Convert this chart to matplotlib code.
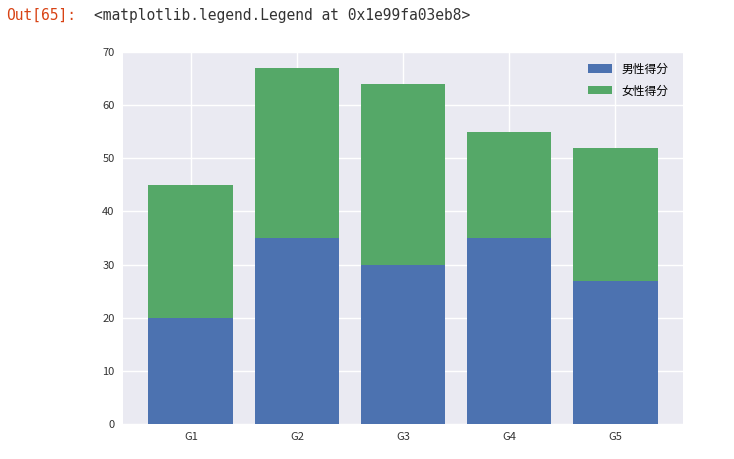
import matplotlib
matplotlib.use("Agg")
import matplotlib.pyplot as plt
import numpy as np

groups = ["G1", "G2", "G3", "G4", "G5"]
men_scores = [20, 35, 30, 35, 27]
women_scores = [25, 32, 34, 20, 25]
series_labels = ["男性得分", "女性得分"]
yticks = [0, 10, 20, 30, 40, 50, 60, 70]

plt.rcParams['font.family'] = ['Noto Sans CJK SC', 'DejaVu Sans']

fig = plt.figure(figsize=(7.34, 4.59), dpi=100)
fig.patch.set_facecolor("white")
ax = fig.add_axes([0.1676, 0.0763, 0.9305 - 0.1676, 0.8867 - 0.0763])
ax.set_facecolor("#EAEAF2")
ax.set_axisbelow(True)
ax.grid(True, color="white", linewidth=1.0)
for s in ax.spines.values():
    s.set_visible(False)

x = np.arange(len(groups))
ax.bar(x, men_scores, width=0.8, color="#4C72B0", label=series_labels[0])
ax.bar(x, women_scores, width=0.8, bottom=men_scores, color="#55A868", label=series_labels[1])

ax.set_xticks(x)
ax.set_xticklabels(groups)
ax.set_yticks(yticks)
ax.set_ylim(0, 70)
ax.tick_params(length=0, labelsize=8, colors="#333333", pad=6)

leg = ax.legend(loc="upper right", frameon=False, fontsize=8.5,
                labelspacing=0.75, bbox_to_anchor=(0.993, 1.0))

fig.text(0.008, 0.967, "Out[65]:", family="DejaVu Sans Mono", fontsize=10.5,
         color="#D84315", va="center")
fig.text(0.128, 0.967, "<matplotlib.legend.Legend at 0x1e99fa03eb8>",
         family="DejaVu Sans Mono", fontsize=10.5, color="#333333", va="center")

fig.savefig("out.png", dpi=100)
